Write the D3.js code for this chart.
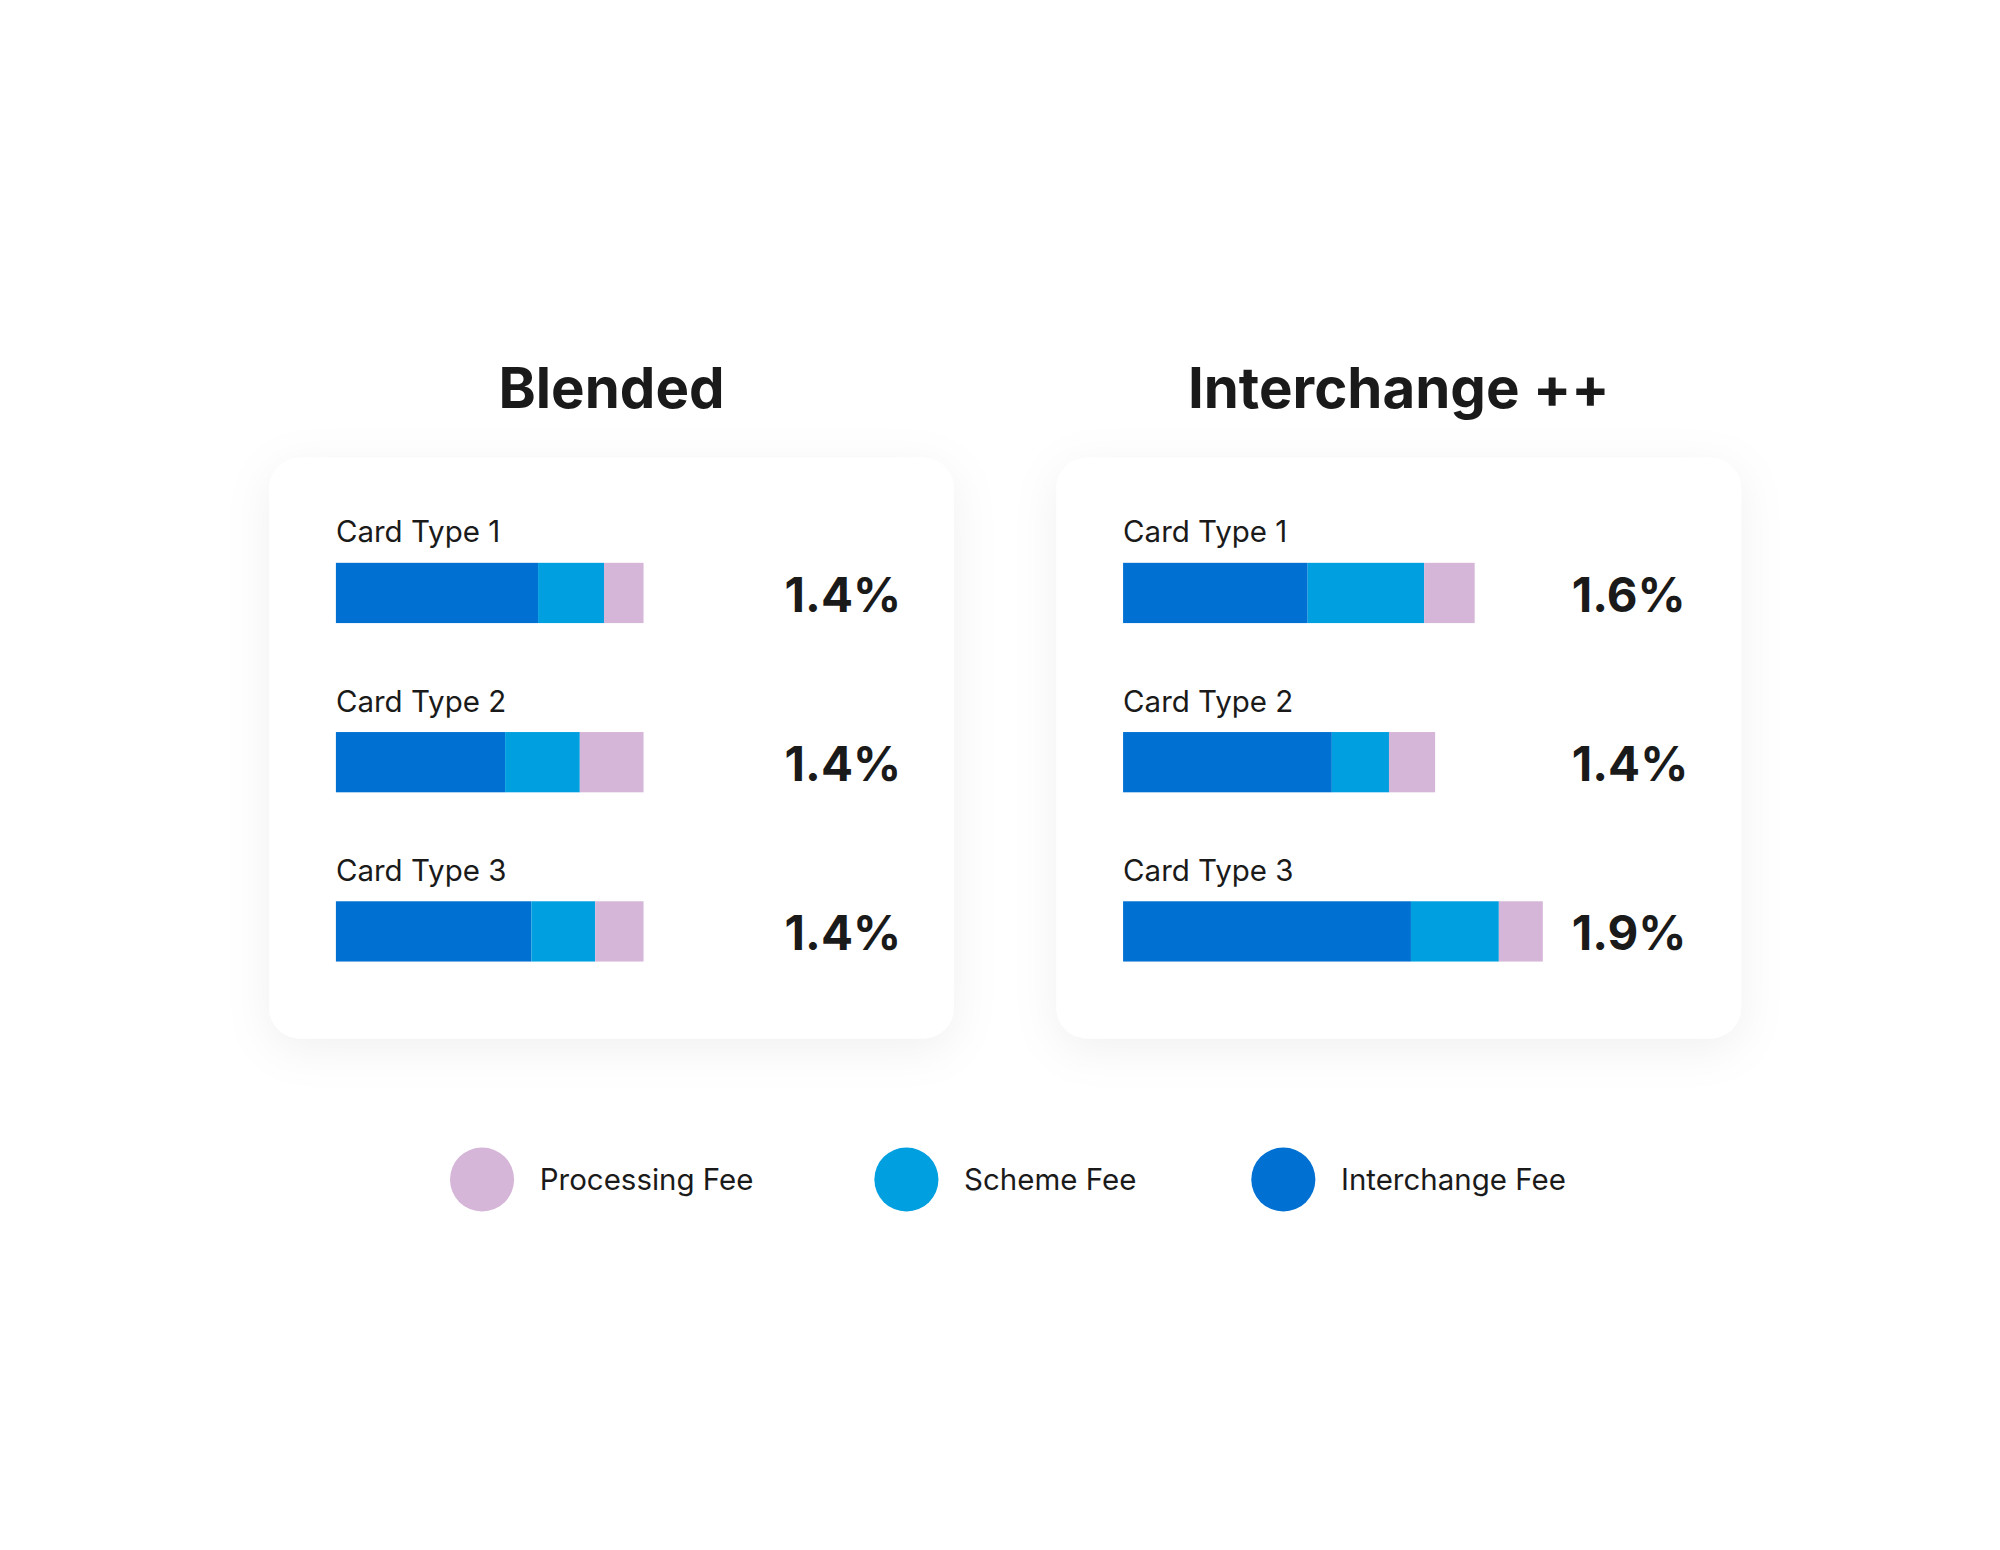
<!DOCTYPE html>
<html><head><meta charset="utf-8">
<script src="https://cdn.jsdelivr.net/npm/d3@7"></script>
<style>body{margin:0;background:#fff}</style></head>
<body><svg id="c" width="2000" height="1550" viewBox="0 0 1560 1209"></svg>
<script>
const panels = ["Blended", "Interchange ++"];
const categories = ["Card Type 1", "Card Type 2", "Card Type 3"];
const series = ["Interchange Fee", "Scheme Fee", "Processing Fee"];
const colors = ["#0070d2", "#009fe0", "#d5b5d8"];
const blendedValues = [[0.92,0.30,0.18],[0.77,0.34,0.29],[0.89,0.29,0.22]];
const icppValues = [[0.84,0.53,0.23],[0.95,0.26,0.21],[1.31,0.40,0.20]];
const totalLabels = [["1.4%","1.4%","1.4%"],["1.6%","1.4%","1.9%"]];
const legendOrder = ["Processing Fee","Scheme Fee","Interchange Fee"];
const allValues = [blendedValues, icppValues];

const svg = d3.select("#c");
const defs = svg.append("defs");
const f = defs.append("filter").attr("id","sh").attr("x","-20%").attr("y","-20%").attr("width","140%").attr("height","140%");
f.append("feDropShadow").attr("dx",0).attr("dy",8).attr("stdDeviation",18).attr("flood-color","#000").attr("flood-opacity",0.06);
const font = "Inter, 'Noto Sans', sans-serif";
const x = d3.scaleLinear().domain([0,1]).range([0,171.4]);
const y = d3.scaleBand().domain(categories).range([439,439+132*3]).paddingInner(0);

panels.forEach((p,pi)=>{
  const ox = 210 + pi*614;
  const g = svg.append("g");
  g.append("text").attr("x",ox+267).attr("y",318).attr("text-anchor","middle")
    .attr("font-family",font).attr("font-weight",700).attr("font-size",44).attr("fill","#1a1a1a").text(p);
  g.append("rect").attr("x",ox).attr("y",357).attr("width",534).attr("height",453).attr("rx",24)
    .attr("fill","#fff").attr("filter","url(#sh)");
  categories.forEach((c,ci)=>{
    const y0 = y(c);
    g.append("text").attr("x",ox+52).attr("y",y0-16).attr("font-family",font).attr("font-size",23)
      .attr("fill","#1a1a1a").text(c);
    let cum = 0;
    allValues[pi][ci].forEach((v,si)=>{
      g.append("rect").attr("x",ox+52+x(cum)).attr("y",y0).attr("width",x(v)).attr("height",47).attr("fill",colors[si]);
      cum += v;
    });
    g.append("text").attr("x",ox+402).attr("y",y0+38).attr("font-family",font).attr("font-weight",700)
      .attr("font-size",37).attr("fill","#1a1a1a").text(totalLabels[pi][ci]);
  });
});
const lx = [376,707,1001];
legendOrder.forEach((s,i)=>{
  const col = colors[series.indexOf(s)];
  svg.append("circle").attr("cx",lx[i]).attr("cy",920).attr("r",25).attr("fill",col);
  svg.append("text").attr("x",lx[i]+45).attr("y",928).attr("font-family",font).attr("font-size",23)
    .attr("fill","#1a1a1a").text(s);
});
</script></body></html>
